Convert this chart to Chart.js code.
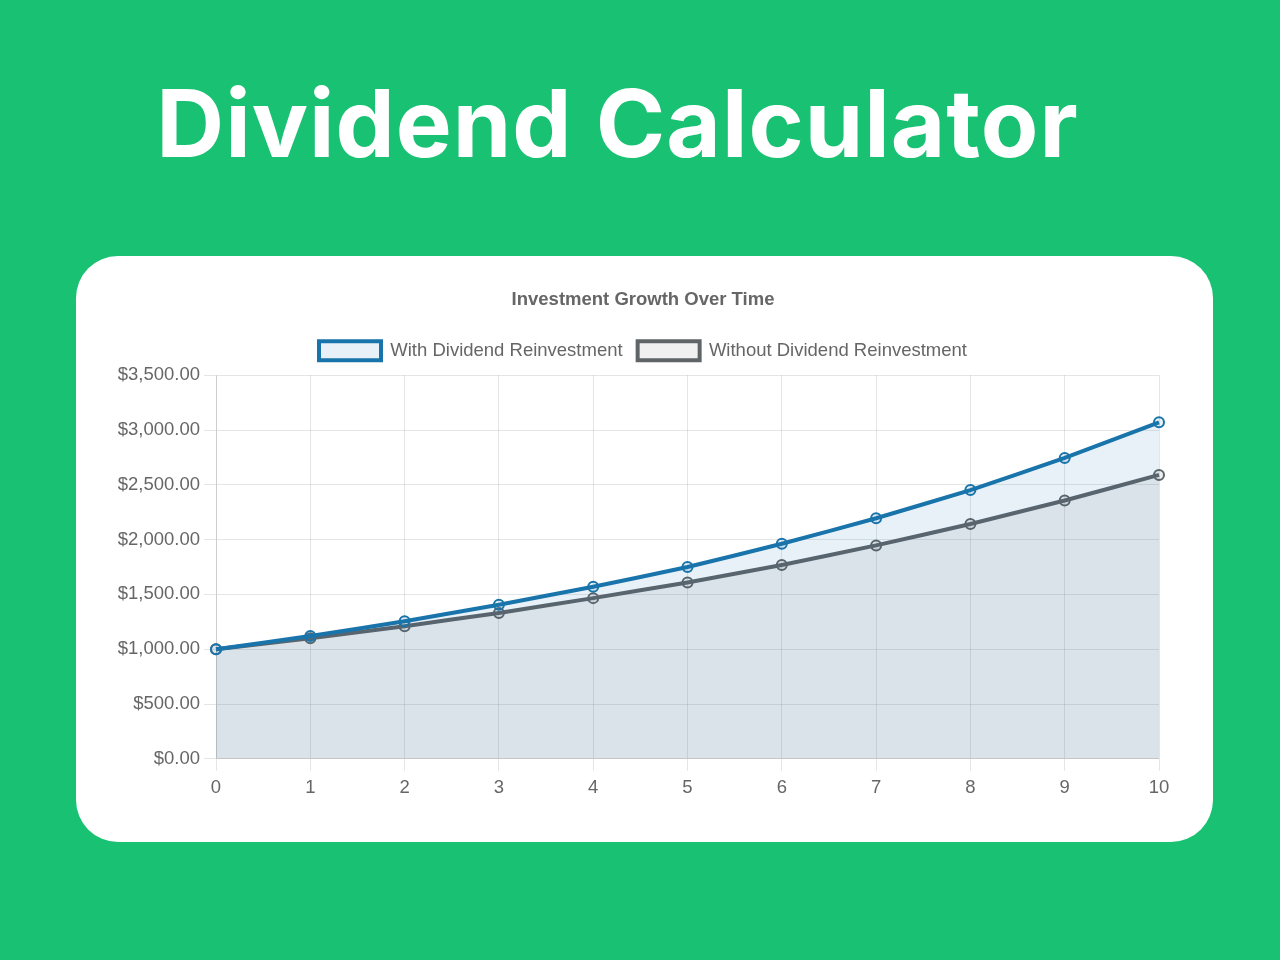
<!DOCTYPE html>
<html>
<head>
<meta charset="utf-8">
<script src="https://cdn.jsdelivr.net/npm/chart.js@4"></script>
<style>
  html, body { margin: 0; padding: 0; }
  body { width: 1280px; height: 960px; background: #19c272; position: relative; overflow: hidden; }
  h1 {
    position: absolute; left: 0; top: 67px; width: 1235px; margin: 0;
    text-align: center; color: #fff; letter-spacing: 1px;
    font-family: Inter, "Open Sans", sans-serif; font-weight: 700; font-size: 94px; line-height: 112px;
  }
  .card { position: absolute; left: 76px; top: 256px; width: 1137px; height: 586px; background: #fff; border-radius: 42px; }
  .chart-box { position: absolute; left: 20px; top: 27px; width: 1100px; height: 522px; }
</style>
</head>
<body>
<h1>Dividend Calculator</h1>
<div class="card">
  <div class="chart-box"><canvas id="growthChart"></canvas></div>
</div>
<script>
// Years and values
const years = [0, 1, 2, 3, 4, 5, 6, 7, 8, 9, 10];
const withReinvest = [1000, 1120, 1255, 1405, 1570, 1750, 1962, 2195, 2452, 2745, 3070];
const withoutReinvest = [1000, 1100, 1210, 1331, 1466, 1609, 1768, 1947, 2143, 2357, 2590];

const fontFamily = "'Liberation Sans', Arial, Helvetica, sans-serif";
Chart.defaults.font.family = fontFamily;
Chart.defaults.font.size = 18.5;
Chart.defaults.color = "#666";

// small extra gap under the legend
const legendGap = {
  id: "legendGap",
  beforeInit(chart) {
    const fit = chart.legend.fit;
    chart.legend.fit = function () {
      fit.bind(chart.legend)();
      this.height += 5;
    };
  }
};

const ctx = document.getElementById("growthChart").getContext("2d");
new Chart(ctx, {
  type: "line",
  data: {
    labels: years,
    datasets: [
      {
        label: "With Dividend Reinvestment",
        data: withReinvest,
        borderColor: "#1874aa",
        backgroundColor: "rgba(26, 115, 178, 0.1)",
        borderWidth: 4,
        pointRadius: 5,
        pointBorderWidth: 2,
        fill: "origin",
        tension: 0.1
      },
      {
        label: "Without Dividend Reinvestment",
        data: withoutReinvest,
        borderColor: "#5f6467",
        backgroundColor: "rgba(110, 110, 110, 0.1)",
        borderWidth: 4,
        pointRadius: 5,
        pointBorderWidth: 2,
        fill: "origin",
        tension: 0.1
      }
    ]
  },
  options: {
    responsive: true,
    maintainAspectRatio: false,
    animation: false,
    layout: { padding: { left: 31, right: 37 } },
    scales: {
      x: {
        grid: { color: "rgba(0,0,0,0.1)", tickLength: 12 },
        ticks: { padding: 6 }
      },
      y: {
        min: 0,
        max: 3500,
        grid: { color: "rgba(0,0,0,0.1)", tickLength: 12 },
        afterFit: scale => {
          scale.width = 89;
          // let the tick labels run past the narrowed axis box
          scale._computeLabelArea = () => undefined;
        },
        ticks: {
          stepSize: 500,
          padding: 4,
          callback: v => "$" + v.toLocaleString("en-US", { minimumFractionDigits: 2, maximumFractionDigits: 2 })
        }
      }
    },
    plugins: {
      legend: {
        display: true,
        position: "top",
        labels: { boxWidth: 62, boxHeight: 19, padding: 15 }
      },
      title: {
        display: true,
        text: "Investment Growth Over Time",
        font: { size: 18.5, weight: "bold" },
        padding: { top: 6, bottom: 15 }
      }
    }
  },
  plugins: [legendGap]
});
</script>
</body>
</html>
